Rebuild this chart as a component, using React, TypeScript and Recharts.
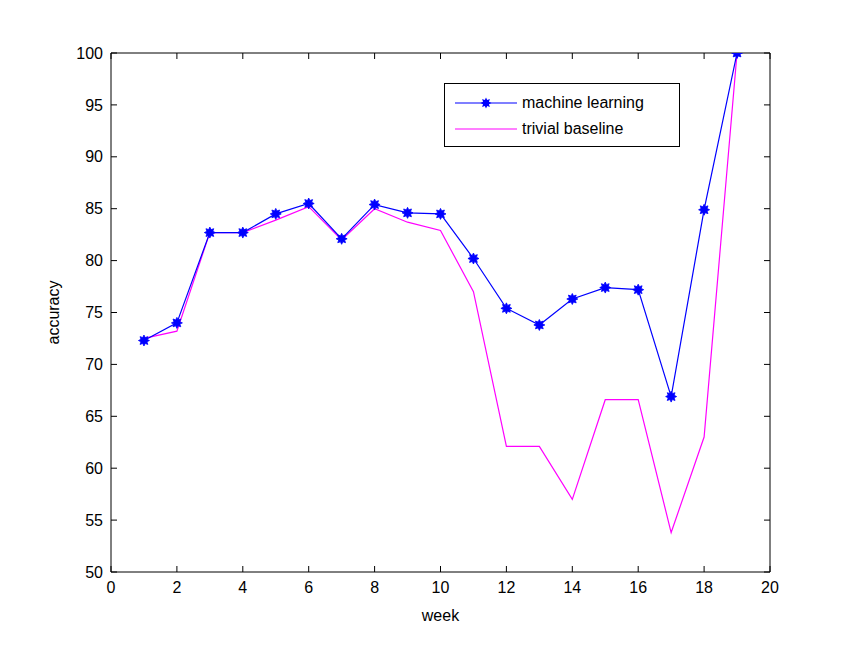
import React from "react";
import {
  LineChart,
  Line,
  XAxis,
  YAxis,
  Legend,
} from "recharts";

const weeks = [1, 2, 3, 4, 5, 6, 7, 8, 9, 10, 11, 12, 13, 14, 15, 16, 17, 18, 19];
const machineLearning = [
  72.3, 74.0, 82.7, 82.7, 84.5, 85.5, 82.1, 85.4, 84.6, 84.5,
  80.2, 75.4, 73.8, 76.3, 77.4, 77.2, 66.9, 84.9, 100,
];
const trivialBaseline = [
  72.5, 73.2, 82.7, 82.7, 83.9, 85.2, 82.0, 85.0, 83.7, 82.9,
  77.0, 62.1, 62.1, 57.0, 66.6, 66.6, 53.8, 63.0, 100,
];
const xTicks = [0, 2, 4, 6, 8, 10, 12, 14, 16, 18, 20];
const yTicks = [50, 55, 60, 65, 70, 75, 80, 85, 90, 95, 100];

const FONT = '"Liberation Sans", Arial, Helvetica, sans-serif';
const BLUE = "#0000ff";
const MAGENTA = "#ff00ff";

const data = weeks.map((w, i) => ({
  week: w,
  ml: machineLearning[i],
  base: trivialBaseline[i],
}));

// matlab-ish "*" marker, drawn at the point recharts gives us
function starPath(cx: number, cy: number, ro: number, ri: number) {
  const pts: string[] = [];
  for (let k = 0; k < 16; k++) {
    const r = k % 2 === 0 ? ro : ri;
    const a = (Math.PI * k) / 8 - Math.PI / 2;
    pts.push(`${(cx + r * Math.cos(a)).toFixed(2)},${(cy + r * Math.sin(a)).toFixed(2)}`);
  }
  return pts.join(" ");
}

const StarDot = (props: any) => {
  const { cx, cy, index } = props;
  if (cx == null || cy == null) return <g key={index} />;
  return (
    <polygon
      key={index}
      points={starPath(cx, cy, 5.5, 3.2)}
      fill={BLUE}
      stroke={BLUE}
      strokeWidth={0.8}
    />
  );
};

const YLabel = (props: any) => {
  const { viewBox } = props;
  const x = viewBox.x + 6;
  const y = viewBox.y + viewBox.height / 2;
  return (
    <text
      x={x}
      y={y}
      transform={`rotate(-90, ${x}, ${y})`}
      textAnchor="middle"
      fontFamily={FONT}
      fontSize={16}
      fill="#000"
    >
      accuracy
    </text>
  );
};

const XLabel = (props: any) => {
  const { viewBox } = props;
  return (
    <text
      x={viewBox.x + viewBox.width / 2}
      y={viewBox.y + 49}
      textAnchor="middle"
      fontFamily={FONT}
      fontSize={16}
      fill="#000"
    >
      week
    </text>
  );
};

const LegendBox = () => (
  <div
    style={{
      width: 236,
      height: 64,
      boxSizing: "border-box",
      border: "1px solid #000",
      background: "#fff",
      fontFamily: FONT,
      fontSize: 16,
      color: "#000",
      padding: "6px 0 0 10px",
    }}
  >
    <div style={{ display: "flex", alignItems: "center", height: 26 }}>
      <svg width={62} height={14} style={{ marginRight: 5 }}>
        <line x1={0} y1={7} x2={62} y2={7} stroke={BLUE} strokeWidth={1.2} />
        <polygon points={starPath(31, 7, 5.5, 3.2)} fill={BLUE} />
      </svg>
      <span>machine learning</span>
    </div>
    <div style={{ display: "flex", alignItems: "center", height: 26 }}>
      <svg width={62} height={14} style={{ marginRight: 5 }}>
        <line x1={0} y1={7} x2={62} y2={7} stroke={MAGENTA} strokeWidth={1.2} />
      </svg>
      <span>trivial baseline</span>
    </div>
  </div>
);

export default function App() {
  const tickStyle = { fill: "#000", fontSize: 16, fontFamily: FONT };
  return (
    <div style={{ width: 836, height: 629, background: "#fff" }}>
      <LineChart
        width={836}
        height={629}
        data={data}
        margin={{ top: 44, right: 73, left: 45, bottom: 35 }}
      >
        <XAxis
          dataKey="week"
          type="number"
          domain={[0, 20]}
          ticks={xTicks}
          allowDataOverflow
          height={30}
          tickSize={-6}
          tickMargin={16}
          tick={tickStyle}
          stroke="#000"
          tickLine={{ stroke: "#000" }}
          label={<XLabel />}
        />
        {/* frame axes on top and right, inward ticks only */}
        <XAxis
          xAxisId="top"
          dataKey="week"
          orientation="top"
          type="number"
          domain={[0, 20]}
          ticks={xTicks}
          allowDataOverflow
          height={1}
          tickSize={-6}
          tickFormatter={() => ""}
          stroke="#000"
          tickLine={{ stroke: "#000" }}
        />
        <YAxis
          type="number"
          domain={[50, 100]}
          ticks={yTicks}
          allowDataOverflow
          width={58}
          tickSize={-6}
          tickMargin={14}
          tick={tickStyle}
          stroke="#000"
          tickLine={{ stroke: "#000" }}
          label={<YLabel />}
        />
        <YAxis
          yAxisId="right"
          orientation="right"
          type="number"
          domain={[50, 100]}
          ticks={yTicks}
          allowDataOverflow
          width={1}
          tickSize={-6}
          tickFormatter={() => ""}
          stroke="#000"
          tickLine={{ stroke: "#000" }}
        />
        <Legend
          layout="vertical"
          align="center"
          verticalAlign="middle"
          wrapperStyle={{ top: 75, left: 436, width: 236 }}
          content={<LegendBox />}
        />
        <Line
          xAxisId="top"
          yAxisId="right"
          type="linear"
          dataKey="ml"
          stroke="none"
          dot={false}
          activeDot={false}
          legendType="none"
          isAnimationActive={false}
        />
        <Line
          type="linear"
          dataKey="base"
          name="trivial baseline"
          stroke={MAGENTA}
          strokeWidth={1.2}
          dot={false}
          activeDot={false}
          isAnimationActive={false}
        />
        <Line
          type="linear"
          dataKey="ml"
          name="machine learning"
          stroke={BLUE}
          strokeWidth={1.2}
          dot={<StarDot />}
          activeDot={false}
          isAnimationActive={false}
        />
      </LineChart>
    </div>
  );
}
